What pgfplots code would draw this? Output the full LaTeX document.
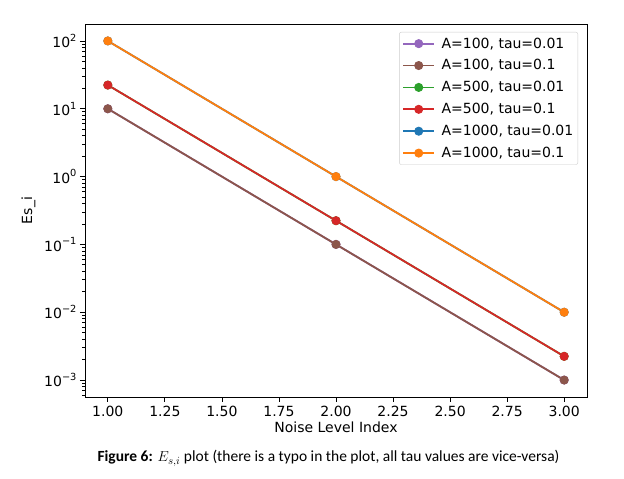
\documentclass[border=0pt]{standalone}
\usepackage{fontspec}
\setmainfont{DejaVu Sans}
\newfontfamily\capfont{Carlito}
\usepackage{pgfplots}
\pgfplotsset{compat=1.18}
\definecolor{mblue}{HTML}{1F77B4}
\definecolor{morange}{HTML}{FF7F0E}
\definecolor{mgreen}{HTML}{2CA02C}
\definecolor{mred}{HTML}{D62728}
\definecolor{mpurple}{HTML}{9467BD}
\definecolor{mbrown}{HTML}{8C564B}
\newcommand{\msup}[1]{\raisebox{0.45em}{\fontsize{9.8}{11}\selectfont #1}}
\begin{document}
\begin{tikzpicture}
\path[use as bounding box] (0pt,0pt) rectangle (624pt,479pt);
\begin{axis}[
  at={(85pt,82pt)}, anchor=south west,
  scale only axis, width=502pt, height=373pt,
  ymode=log,
  xmin=0.9, xmax=3.1, ymin=5.623e-4, ymax=177.8,
  xtick={1,1.25,1.5,1.75,2,2.25,2.5,2.75,3},
  xticklabels={1.00,1.25,1.50,1.75,2.00,2.25,2.50,2.75,3.00},
  ytick={1e-3,1e-2,1e-1,1,10,100},
  yticklabels={10\msup{−3},10\msup{−2},10\msup{−1},10\msup{0},10\msup{1},10\msup{2}},
  minor ytick={6e-4,7e-4,8e-4,9e-4,2e-3,3e-3,4e-3,5e-3,6e-3,7e-3,8e-3,9e-3,2e-2,3e-2,4e-2,5e-2,6e-2,7e-2,8e-2,9e-2,0.2,0.3,0.4,0.5,0.6,0.7,0.8,0.9,2,3,4,5,6,7,8,9,20,30,40,50,60,70,80,90},
  tick pos=left, tick align=outside,
  major tick length=5pt, minor tick length=3pt,
  every tick/.style={black, line width=0.8pt},
  axis line style={line width=0.9pt},
  tick label style={font=\fontsize{14}{16}\selectfont},
  xticklabel style={yshift=-1pt},
  label style={font=\fontsize{14}{16}\selectfont},
  xlabel style={yshift=2pt},
  ylabel style={yshift=2pt},
  xlabel={Noise Level Index}, ylabel={Es\_i},
  legend cell align=left,
  legend style={at={(1,1)}, anchor=north east, xshift=-9pt, yshift=-8pt,
    draw=black!20, rounded corners=2pt, font=\fontsize{14}{16}\selectfont,
    row sep=7pt, inner xsep=3pt, inner ysep=4pt, nodes={inner sep=1.5pt},
    /tikz/every odd column/.append style={column sep=5pt}},
  legend image code/.code={\draw[line width=1.8pt, mark repeat=2, mark phase=2] plot coordinates {(0pt,0pt)(15.5pt,0pt)(31pt,0pt)};},
  every axis plot/.append style={line width=1.8pt, mark=*, mark size=4.1pt},
]
\addplot[mpurple, mark options={fill=mpurple, line width=0.8pt}] coordinates {(1,10) (2,0.1) (3,0.001)};
\addlegendentry{A=100, tau=0.01}
\addplot[mbrown, mark options={fill=mbrown, line width=0.8pt}] coordinates {(1,10) (2,0.1) (3,0.001)};
\addlegendentry{A=100, tau=0.1}
\addplot[mgreen, mark options={fill=mgreen, line width=0.8pt}] coordinates {(1,22.36) (2,0.2236) (3,0.002236)};
\addlegendentry{A=500, tau=0.01}
\addplot[mred, mark options={fill=mred, line width=0.8pt}] coordinates {(1,22.36) (2,0.2236) (3,0.002236)};
\addlegendentry{A=500, tau=0.1}
\addplot[mblue, mark options={fill=mblue, line width=0.8pt}] coordinates {(1,100) (2,1) (3,0.01)};
\addlegendentry{A=1000, tau=0.01}
\addplot[morange, mark options={fill=morange, line width=0.8pt}] coordinates {(1,100) (2,1) (3,0.01)};
\addlegendentry{A=1000, tau=0.1}
\end{axis}
\node[anchor=base west, font=\capfont\fontsize{15.5}{18}\selectfont] at (94pt,17pt) {\textbf{Figure 6:} $E_{s,i}$ plot (there is a typo in the plot, all tau values are vice-versa)};
\end{tikzpicture}
\end{document}
